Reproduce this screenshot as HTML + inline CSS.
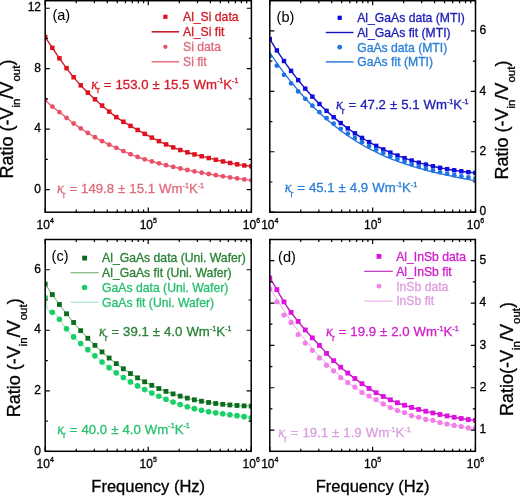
<!DOCTYPE html>
<html><head><meta charset="utf-8"><title>Ratio vs Frequency</title><style>
*{margin:0;padding:0}
html,body{width:520px;height:496px;overflow:hidden;background:#fff}
svg{display:block}
text{font-family:'Liberation Sans', Arial, sans-serif;stroke-width:0.3px}
.tl,.pl,.xt,.yt{stroke:#000}
.tl{font-size:12px;fill:#000}
.sup{font-size:7px}
.lg{font-size:12.2px}
.an{font-size:13.2px;word-spacing:0.35px}
.k{font-style:italic;font-family:'Liberation Serif',serif;font-size:14px}
.sub{font-size:8.5px}
.sup2{font-size:7.2px}
.pl{font-size:14.5px;fill:#000;stroke-width:0.05px}
.xt{font-size:16.5px;fill:#000}
.yt{font-size:18px;fill:#000}
.ys{font-size:11.5px}
</style></head><body>
<svg width="520" height="496" viewBox="0 0 520 496">
<rect width="520" height="496" fill="#fff"/>
<clipPath id="clip_a"><rect x="45.2" y="0.7" width="206.2" height="211.5"/></clipPath>
<clipPath id="clip_b"><rect x="269.8" y="0.7" width="205.7" height="211.5"/></clipPath>
<clipPath id="clip_c"><rect x="45.2" y="239.5" width="206" height="211.8"/></clipPath>
<clipPath id="clip_d"><rect x="269.8" y="239.5" width="205.6" height="211.8"/></clipPath>
<g clip-path="url(#clip_a)">
<polyline points="44.2,35.47 47.22,40.1 50.23,44.69 53.25,49.24 56.27,53.71 59.29,58.1 62.3,62.39 65.32,66.55 68.34,70.58 71.36,74.45 74.37,78.14 77.39,81.64 80.41,84.98 83.43,88.17 86.44,91.22 89.46,94.16 92.48,97 95.5,99.76 98.51,102.45 101.53,105.1 104.55,107.72 107.57,110.28 110.58,112.76 113.6,115.13 116.62,117.34 119.63,119.39 122.65,121.3 125.67,123.11 128.69,124.86 131.7,126.59 134.72,128.3 137.74,130 140.76,131.68 143.77,133.34 146.79,134.97 149.81,136.57 152.83,138.13 155.84,139.64 158.86,141.11 161.88,142.53 164.9,143.9 167.91,145.22 170.93,146.48 173.95,147.69 176.97,148.84 179.98,149.93 183,150.95 186.02,151.92 189.03,152.84 192.05,153.72 195.07,154.55 198.09,155.36 201.1,156.14 204.12,156.9 207.14,157.65 210.16,158.4 213.17,159.14 216.19,159.87 219.21,160.59 222.23,161.29 225.24,161.96 228.26,162.62 231.28,163.24 234.3,163.82 237.31,164.36 240.33,164.86 243.35,165.32 246.37,165.72 249.38,166.06 252.4,166.34" fill="none" stroke="#c82030" stroke-width="1.4"/>
<g fill="#e0101c"><rect x="42.95" y="34.76" width="4.5" height="4.5"/><rect x="50.06" y="45.57" width="4.5" height="4.5"/><rect x="57.17" y="56.05" width="4.5" height="4.5"/><rect x="64.28" y="65.93" width="4.5" height="4.5"/><rect x="71.39" y="75.01" width="4.5" height="4.5"/><rect x="78.5" y="83.1" width="4.5" height="4.5"/><rect x="85.61" y="90.37" width="4.5" height="4.5"/><rect x="92.72" y="97.03" width="4.5" height="4.5"/><rect x="99.83" y="103.33" width="4.5" height="4.5"/><rect x="106.94" y="109.38" width="4.5" height="4.5"/><rect x="114.05" y="114.87" width="4.5" height="4.5"/><rect x="121.16" y="119.52" width="4.5" height="4.5"/><rect x="128.27" y="123.66" width="4.5" height="4.5"/><rect x="135.38" y="127.69" width="4.5" height="4.5"/><rect x="142.49" y="131.62" width="4.5" height="4.5"/><rect x="149.61" y="135.38" width="4.5" height="4.5"/><rect x="156.72" y="138.91" width="4.5" height="4.5"/><rect x="163.83" y="142.17" width="4.5" height="4.5"/><rect x="170.94" y="145.14" width="4.5" height="4.5"/><rect x="178.05" y="147.78" width="4.5" height="4.5"/><rect x="185.16" y="150.1" width="4.5" height="4.5"/><rect x="192.27" y="152.15" width="4.5" height="4.5"/><rect x="199.38" y="154.02" width="4.5" height="4.5"/><rect x="206.49" y="155.8" width="4.5" height="4.5"/><rect x="213.6" y="157.54" width="4.5" height="4.5"/><rect x="220.71" y="159.2" width="4.5" height="4.5"/><rect x="227.82" y="160.74" width="4.5" height="4.5"/><rect x="234.93" y="162.09" width="4.5" height="4.5"/><rect x="242.04" y="163.2" width="4.5" height="4.5"/><rect x="249.15" y="164" width="4.5" height="4.5"/></g>
</g>
<g clip-path="url(#clip_a)">
<polyline points="44.2,98.57 47.22,101.92 50.23,104.77 53.25,107.29 56.27,109.63 59.29,111.94 62.3,114.34 65.32,116.82 68.34,119.3 71.36,121.73 74.37,124.04 77.39,126.19 80.41,128.22 83.43,130.16 86.44,132.04 89.46,133.91 92.48,135.75 95.5,137.56 98.51,139.29 101.53,140.93 104.55,142.46 107.57,143.9 110.58,145.28 113.6,146.63 116.62,147.98 119.63,149.36 122.65,150.76 125.67,152.13 128.69,153.46 131.7,154.72 134.72,155.89 137.74,156.99 140.76,158.03 143.77,159 146.79,159.93 149.81,160.82 152.83,161.68 155.84,162.51 158.86,163.33 161.88,164.12 164.9,164.89 167.91,165.64 170.93,166.37 173.95,167.08 176.97,167.77 179.98,168.44 183,169.1 186.02,169.73 189.03,170.35 192.05,170.96 195.07,171.54 198.09,172.12 201.1,172.67 204.12,173.22 207.14,173.75 210.16,174.27 213.17,174.77 216.19,175.27 219.21,175.75 222.23,176.22 225.24,176.68 228.26,177.14 231.28,177.58 234.3,178.01 237.31,178.44 240.33,178.86 243.35,179.28 246.37,179.68 249.38,180.09 252.4,180.48" fill="none" stroke="#e86474" stroke-width="1.4"/>
<g fill="#e94f68"><circle cx="45.2" cy="99.74" r="2.4"/><circle cx="52.31" cy="106.53" r="2.4"/><circle cx="59.42" cy="112.04" r="2.4"/><circle cx="66.53" cy="117.82" r="2.4"/><circle cx="73.64" cy="123.49" r="2.4"/><circle cx="80.75" cy="128.45" r="2.4"/><circle cx="87.86" cy="132.92" r="2.4"/><circle cx="94.97" cy="137.25" r="2.4"/><circle cx="102.08" cy="141.22" r="2.4"/><circle cx="109.19" cy="144.65" r="2.4"/><circle cx="116.3" cy="147.84" r="2.4"/><circle cx="123.41" cy="151.11" r="2.4"/><circle cx="130.52" cy="154.24" r="2.4"/><circle cx="137.63" cy="156.96" r="2.4"/><circle cx="144.74" cy="159.3" r="2.4"/><circle cx="151.86" cy="161.4" r="2.4"/><circle cx="158.97" cy="163.36" r="2.4"/><circle cx="166.08" cy="165.19" r="2.4"/><circle cx="173.19" cy="166.9" r="2.4"/><circle cx="180.3" cy="168.51" r="2.4"/><circle cx="187.41" cy="170.02" r="2.4"/><circle cx="194.52" cy="171.44" r="2.4"/><circle cx="201.63" cy="172.77" r="2.4"/><circle cx="208.74" cy="174.02" r="2.4"/><circle cx="215.85" cy="175.21" r="2.4"/><circle cx="222.96" cy="176.33" r="2.4"/><circle cx="230.07" cy="177.4" r="2.4"/><circle cx="237.18" cy="178.42" r="2.4"/><circle cx="244.29" cy="179.4" r="2.4"/><circle cx="251.4" cy="180.35" r="2.4"/></g>
</g>
<g clip-path="url(#clip_b)">
<polyline points="268.8,37.51 271.81,42.43 274.82,47.22 277.83,51.88 280.84,56.41 283.85,60.81 286.86,65.09 289.87,69.24 292.88,73.28 295.89,77.19 298.9,80.99 301.91,84.68 304.92,88.26 307.93,91.72 310.94,95.08 313.95,98.34 316.96,101.49 319.97,104.54 322.98,107.49 325.99,110.35 329,113.11 332.01,115.79 335.02,118.37 338.03,120.86 341.04,123.27 344.05,125.6 347.06,127.85 350.07,130.02 353.08,132.11 356.09,134.13 359.1,136.07 362.11,137.95 365.12,139.76 368.13,141.5 371.14,143.19 374.16,144.81 377.17,146.37 380.18,147.87 383.19,149.32 386.2,150.72 389.21,152.06 392.22,153.35 395.23,154.59 398.24,155.78 401.25,156.92 404.26,158.01 407.27,159.06 410.28,160.06 413.29,161.02 416.3,161.93 419.31,162.81 422.32,163.64 425.33,164.43 428.34,165.19 431.35,165.9 434.36,166.59 437.37,167.23 440.38,167.85 443.39,168.43 446.4,168.98 449.41,169.5 452.42,169.99 455.43,170.45 458.44,170.89 461.45,171.3 464.46,171.69 467.47,172.05 470.48,172.39 473.49,172.71 476.5,173.01" fill="none" stroke="#1414c0" stroke-width="1.4"/>
<g fill="#0c0ce0"><rect x="267.6" y="36.96" width="4.4" height="4.4"/><rect x="274.69" y="48.24" width="4.4" height="4.4"/><rect x="281.79" y="58.81" width="4.4" height="4.4"/><rect x="288.88" y="68.68" width="4.4" height="4.4"/><rect x="295.97" y="77.88" width="4.4" height="4.4"/><rect x="303.07" y="86.46" width="4.4" height="4.4"/><rect x="310.16" y="94.43" width="4.4" height="4.4"/><rect x="317.25" y="101.82" width="4.4" height="4.4"/><rect x="324.34" y="108.66" width="4.4" height="4.4"/><rect x="331.44" y="114.99" width="4.4" height="4.4"/><rect x="338.53" y="120.83" width="4.4" height="4.4"/><rect x="345.62" y="126.2" width="4.4" height="4.4"/><rect x="352.72" y="131.15" width="4.4" height="4.4"/><rect x="359.81" y="135.69" width="4.4" height="4.4"/><rect x="366.9" y="139.85" width="4.4" height="4.4"/><rect x="374" y="143.67" width="4.4" height="4.4"/><rect x="381.09" y="147.17" width="4.4" height="4.4"/><rect x="388.18" y="150.37" width="4.4" height="4.4"/><rect x="395.28" y="153.28" width="4.4" height="4.4"/><rect x="402.37" y="155.92" width="4.4" height="4.4"/><rect x="409.46" y="158.31" width="4.4" height="4.4"/><rect x="416.56" y="160.45" width="4.4" height="4.4"/><rect x="423.65" y="162.36" width="4.4" height="4.4"/><rect x="430.74" y="164.07" width="4.4" height="4.4"/><rect x="437.83" y="165.58" width="4.4" height="4.4"/><rect x="444.93" y="166.91" width="4.4" height="4.4"/><rect x="452.02" y="168.07" width="4.4" height="4.4"/><rect x="459.11" y="169.08" width="4.4" height="4.4"/><rect x="466.21" y="169.96" width="4.4" height="4.4"/><rect x="473.3" y="170.71" width="4.4" height="4.4"/></g>
</g>
<g clip-path="url(#clip_b)">
<polyline points="268.8,51.21 271.81,55.72 274.82,60.12 277.83,64.4 280.84,68.57 283.85,72.63 286.86,76.58 289.87,80.42 292.88,84.15 295.89,87.78 298.9,91.3 301.91,94.73 304.92,98.05 307.93,101.28 310.94,104.41 313.95,107.45 316.96,110.4 319.97,113.25 322.98,116.02 325.99,118.7 329,121.3 332.01,123.81 335.02,126.24 338.03,128.59 341.04,130.86 344.05,133.06 347.06,135.18 350.07,137.23 353.08,139.21 356.09,141.12 359.1,142.96 362.11,144.73 365.12,146.45 368.13,148.1 371.14,149.69 374.16,151.22 377.17,152.69 380.18,154.11 383.19,155.48 386.2,156.79 389.21,158.06 392.22,159.28 395.23,160.45 398.24,161.57 401.25,162.66 404.26,163.7 407.27,164.71 410.28,165.67 413.29,166.61 416.3,167.5 419.31,168.37 422.32,169.21 425.33,170.01 428.34,170.8 431.35,171.55 434.36,172.28 437.37,173 440.38,173.69 443.39,174.36 446.4,175.02 449.41,175.67 452.42,176.3 455.43,176.92 458.44,177.53 461.45,178.14 464.46,178.74 467.47,179.34 470.48,179.93 473.49,180.52 476.5,181.12" fill="none" stroke="#2070d8" stroke-width="1.3"/>
<g fill="#1e74e4"><circle cx="269.8" cy="55.91" r="2.4"/><circle cx="276.89" cy="65.69" r="2.4"/><circle cx="283.99" cy="74.85" r="2.4"/><circle cx="291.08" cy="83.4" r="2.4"/><circle cx="298.17" cy="91.38" r="2.4"/><circle cx="305.27" cy="98.81" r="2.4"/><circle cx="312.36" cy="105.73" r="2.4"/><circle cx="319.45" cy="112.17" r="2.4"/><circle cx="326.54" cy="118.15" r="2.4"/><circle cx="333.64" cy="123.7" r="2.4"/><circle cx="340.73" cy="128.85" r="2.4"/><circle cx="347.82" cy="133.64" r="2.4"/><circle cx="354.92" cy="138.08" r="2.4"/><circle cx="362.01" cy="142.2" r="2.4"/><circle cx="369.1" cy="146.05" r="2.4"/><circle cx="376.2" cy="149.63" r="2.4"/><circle cx="383.29" cy="152.99" r="2.4"/><circle cx="390.38" cy="156.13" r="2.4"/><circle cx="397.48" cy="159.05" r="2.4"/><circle cx="404.57" cy="161.75" r="2.4"/><circle cx="411.66" cy="164.26" r="2.4"/><circle cx="418.76" cy="166.56" r="2.4"/><circle cx="425.85" cy="168.67" r="2.4"/><circle cx="432.94" cy="170.58" r="2.4"/><circle cx="440.03" cy="172.31" r="2.4"/><circle cx="447.13" cy="173.87" r="2.4"/><circle cx="454.22" cy="175.25" r="2.4"/><circle cx="461.31" cy="176.45" r="2.4"/><circle cx="468.41" cy="177.5" r="2.4"/><circle cx="475.5" cy="178.39" r="2.4"/></g>
</g>
<g clip-path="url(#clip_c)">
<polyline points="44.2,282.5 47.21,287.09 50.23,291.56 53.24,295.91 56.26,300.16 59.27,304.29 62.29,308.32 65.3,312.24 68.32,316.05 71.33,319.76 74.34,323.36 77.36,326.87 80.37,330.28 83.39,333.58 86.4,336.79 89.42,339.91 92.43,342.93 95.45,345.85 98.46,348.69 101.48,351.44 104.49,354.09 107.5,356.67 110.52,359.15 113.53,361.55 116.55,363.87 119.56,366.11 122.58,368.27 125.59,370.35 128.61,372.35 131.62,374.28 134.63,376.13 137.65,377.92 140.66,379.63 143.68,381.27 146.69,382.84 149.71,384.35 152.72,385.79 155.74,387.16 158.75,388.48 161.77,389.73 164.78,390.93 167.79,392.06 170.81,393.14 173.82,394.17 176.84,395.14 179.85,396.05 182.87,396.92 185.88,397.74 188.9,398.51 191.91,399.23 194.92,399.91 197.94,400.55 200.95,401.14 203.97,401.69 206.98,402.2 210,402.68 213.01,403.12 216.03,403.52 219.04,403.89 222.06,404.23 225.07,404.53 228.08,404.81 231.1,405.06 234.11,405.28 237.13,405.48 240.14,405.66 243.16,405.81 246.17,405.94 249.19,406.06 252.2,406.15" fill="none" stroke="#4f9a4a" stroke-width="0.9"/>
<g fill="#0b6b1e"><rect x="42.8" y="281.64" width="4.8" height="4.8"/><rect x="49.9" y="292.17" width="4.8" height="4.8"/><rect x="57.01" y="302.07" width="4.8" height="4.8"/><rect x="64.11" y="311.38" width="4.8" height="4.8"/><rect x="71.21" y="320.1" width="4.8" height="4.8"/><rect x="78.32" y="328.26" width="4.8" height="4.8"/><rect x="85.42" y="335.87" width="4.8" height="4.8"/><rect x="92.52" y="342.95" width="4.8" height="4.8"/><rect x="99.63" y="349.53" width="4.8" height="4.8"/><rect x="106.73" y="355.62" width="4.8" height="4.8"/><rect x="113.83" y="361.24" width="4.8" height="4.8"/><rect x="120.94" y="366.4" width="4.8" height="4.8"/><rect x="128.04" y="371.14" width="4.8" height="4.8"/><rect x="135.14" y="375.46" width="4.8" height="4.8"/><rect x="142.25" y="379.38" width="4.8" height="4.8"/><rect x="149.35" y="382.93" width="4.8" height="4.8"/><rect x="156.46" y="386.12" width="4.8" height="4.8"/><rect x="163.56" y="388.98" width="4.8" height="4.8"/><rect x="170.66" y="391.51" width="4.8" height="4.8"/><rect x="177.77" y="393.75" width="4.8" height="4.8"/><rect x="184.87" y="395.7" width="4.8" height="4.8"/><rect x="191.97" y="397.39" width="4.8" height="4.8"/><rect x="199.08" y="398.84" width="4.8" height="4.8"/><rect x="206.18" y="400.06" width="4.8" height="4.8"/><rect x="213.28" y="401.08" width="4.8" height="4.8"/><rect x="220.39" y="401.9" width="4.8" height="4.8"/><rect x="227.49" y="402.56" width="4.8" height="4.8"/><rect x="234.59" y="403.07" width="4.8" height="4.8"/><rect x="241.7" y="403.45" width="4.8" height="4.8"/><rect x="248.8" y="403.72" width="4.8" height="4.8"/></g>
</g>
<g clip-path="url(#clip_c)">
<polyline points="44.2,288.46 47.21,308.38 50.23,312.53 53.24,312.39 56.26,314.91 59.27,319.08 62.29,323.32 65.3,327.31 68.32,331.02 71.33,334.47 74.34,337.63 77.36,340.54 80.37,343.26 83.39,345.86 86.4,348.43 89.42,351.02 92.43,353.66 95.45,356.31 98.46,358.94 101.48,361.51 104.49,364 107.5,366.39 110.52,368.7 113.53,370.92 116.55,373.05 119.56,375.11 122.58,377.08 125.59,378.99 128.61,380.83 131.62,382.6 134.63,384.31 137.65,385.97 140.66,387.57 143.68,389.11 146.69,390.61 149.71,392.07 152.72,393.49 155.74,394.86 158.75,396.2 161.77,397.5 164.78,398.76 167.79,399.97 170.81,401.14 173.82,402.27 176.84,403.35 179.85,404.38 182.87,405.37 185.88,406.3 188.9,407.19 191.91,408.03 194.92,408.81 197.94,409.54 200.95,410.22 203.97,410.84 206.98,411.41 210,411.94 213.01,412.43 216.03,412.88 219.04,413.31 222.06,413.72 225.07,414.12 228.08,414.51 231.1,414.89 234.11,415.28 237.13,415.68 240.14,416.09 243.16,416.53 246.17,416.99 249.19,417.49 252.2,418.03" fill="none" stroke="#7ee0b0" stroke-width="0.9"/>
<g fill="#18d068"><circle cx="45.2" cy="297.53" r="2.8"/><circle cx="52.3" cy="312.23" r="2.8"/><circle cx="59.41" cy="319.28" r="2.8"/><circle cx="66.51" cy="328.83" r="2.8"/><circle cx="73.61" cy="336.89" r="2.8"/><circle cx="80.72" cy="343.56" r="2.8"/><circle cx="87.82" cy="349.64" r="2.8"/><circle cx="94.92" cy="355.85" r="2.8"/><circle cx="102.03" cy="361.97" r="2.8"/><circle cx="109.13" cy="367.65" r="2.8"/><circle cx="116.23" cy="372.83" r="2.8"/><circle cx="123.34" cy="377.57" r="2.8"/><circle cx="130.44" cy="381.92" r="2.8"/><circle cx="137.54" cy="385.91" r="2.8"/><circle cx="144.65" cy="389.6" r="2.8"/><circle cx="151.75" cy="393.03" r="2.8"/><circle cx="158.86" cy="396.25" r="2.8"/><circle cx="165.96" cy="399.24" r="2.8"/><circle cx="173.06" cy="401.99" r="2.8"/><circle cx="180.17" cy="404.48" r="2.8"/><circle cx="187.27" cy="406.72" r="2.8"/><circle cx="194.37" cy="408.67" r="2.8"/><circle cx="201.48" cy="410.33" r="2.8"/><circle cx="208.58" cy="411.7" r="2.8"/><circle cx="215.68" cy="412.83" r="2.8"/><circle cx="222.79" cy="413.82" r="2.8"/><circle cx="229.89" cy="414.74" r="2.8"/><circle cx="236.99" cy="415.66" r="2.8"/><circle cx="244.1" cy="416.67" r="2.8"/><circle cx="251.2" cy="417.84" r="2.8"/></g>
</g>
<g clip-path="url(#clip_d)">
<polyline points="268.8,276.62 271.81,281.02 274.82,285.99 277.83,291.27 280.83,296.59 283.84,301.69 286.85,306.39 289.86,310.72 292.87,314.76 295.88,318.61 298.89,322.33 301.9,325.98 304.9,329.55 307.91,333 310.92,336.34 313.93,339.54 316.94,342.71 319.95,345.98 322.96,349.38 325.97,352.78 328.97,356.02 331.98,359.1 334.99,362.03 338,364.81 341.01,367.48 344.02,370.03 347.03,372.48 350.03,374.85 353.04,377.15 356.05,379.4 359.06,381.59 362.07,383.72 365.08,385.79 368.09,387.78 371.1,389.7 374.1,391.53 377.11,393.26 380.12,394.9 383.13,396.45 386.14,397.91 389.15,399.3 392.16,400.6 395.17,401.83 398.17,402.99 401.18,404.09 404.19,405.13 407.2,406.11 410.21,407.05 413.22,407.94 416.23,408.79 419.23,409.6 422.24,410.38 425.25,411.13 428.26,411.86 431.27,412.57 434.28,413.26 437.29,413.92 440.3,414.56 443.3,415.18 446.31,415.79 449.32,416.36 452.33,416.92 455.34,417.46 458.35,417.98 461.36,418.48 464.37,418.95 467.37,419.41 470.38,419.85 473.39,420.27 476.4,420.66" fill="none" stroke="#b820b8" stroke-width="1.4"/>
<g fill="#e010e0"><rect x="267.4" y="275.6" width="4.8" height="4.8"/><rect x="274.49" y="287.21" width="4.8" height="4.8"/><rect x="281.58" y="299.51" width="4.8" height="4.8"/><rect x="288.67" y="309.97" width="4.8" height="4.8"/><rect x="295.76" y="319.04" width="4.8" height="4.8"/><rect x="302.85" y="327.55" width="4.8" height="4.8"/><rect x="309.94" y="335.46" width="4.8" height="4.8"/><rect x="317.03" y="343" width="4.8" height="4.8"/><rect x="324.12" y="350.99" width="4.8" height="4.8"/><rect x="331.21" y="358.3" width="4.8" height="4.8"/><rect x="338.3" y="364.81" width="4.8" height="4.8"/><rect x="345.39" y="370.69" width="4.8" height="4.8"/><rect x="352.48" y="376.12" width="4.8" height="4.8"/><rect x="359.57" y="381.25" width="4.8" height="4.8"/><rect x="366.66" y="386.01" width="4.8" height="4.8"/><rect x="373.74" y="390.32" width="4.8" height="4.8"/><rect x="380.83" y="394.1" width="4.8" height="4.8"/><rect x="387.92" y="397.41" width="4.8" height="4.8"/><rect x="395.01" y="400.3" width="4.8" height="4.8"/><rect x="402.1" y="402.83" width="4.8" height="4.8"/><rect x="409.19" y="405.06" width="4.8" height="4.8"/><rect x="416.28" y="407.05" width="4.8" height="4.8"/><rect x="423.37" y="408.86" width="4.8" height="4.8"/><rect x="430.46" y="410.54" width="4.8" height="4.8"/><rect x="437.55" y="412.09" width="4.8" height="4.8"/><rect x="444.64" y="413.53" width="4.8" height="4.8"/><rect x="451.73" y="414.85" width="4.8" height="4.8"/><rect x="458.82" y="416.05" width="4.8" height="4.8"/><rect x="465.91" y="417.15" width="4.8" height="4.8"/><rect x="473" y="418.13" width="4.8" height="4.8"/></g>
</g>
<g clip-path="url(#clip_d)">
<polyline points="268.8,285.66 271.81,290.89 274.82,295.97 277.83,300.92 280.83,305.73 283.84,310.41 286.85,314.96 289.86,319.38 292.87,323.68 295.88,327.85 298.89,331.9 301.9,335.83 304.9,339.64 307.91,343.33 310.92,346.91 313.93,350.38 316.94,353.73 319.95,356.98 322.96,360.13 325.97,363.17 328.97,366.11 331.98,368.95 334.99,371.69 338,374.34 341.01,376.89 344.02,379.35 347.03,381.73 350.03,384.01 353.04,386.21 356.05,388.33 359.06,390.37 362.07,392.33 365.08,394.21 368.09,396.02 371.1,397.76 374.1,399.42 377.11,401.02 380.12,402.55 383.13,404.01 386.14,405.42 389.15,406.76 392.16,408.05 395.17,409.28 398.17,410.45 401.18,411.58 404.19,412.65 407.2,413.68 410.21,414.66 413.22,415.6 416.23,416.5 419.23,417.36 422.24,418.18 425.25,418.96 428.26,419.72 431.27,420.44 434.28,421.13 437.29,421.8 440.3,422.44 443.3,423.06 446.31,423.66 449.32,424.23 452.33,424.8 455.34,425.35 458.35,425.88 461.36,426.41 464.37,426.93 467.37,427.44 470.38,427.95 473.39,428.46 476.4,428.96" fill="none" stroke="#f0a0ec" stroke-width="1.0"/>
<g fill="#f080e8"><circle cx="269.8" cy="288.9" r="2.6"/><circle cx="276.89" cy="301.8" r="2.6"/><circle cx="283.98" cy="315" r="2.6"/><circle cx="291.07" cy="322.4" r="2.6"/><circle cx="298.16" cy="334.5" r="2.6"/><circle cx="305.25" cy="343.1" r="2.6"/><circle cx="312.34" cy="350.3" r="2.6"/><circle cx="319.43" cy="357.9" r="2.6"/><circle cx="326.52" cy="365.2" r="2.6"/><circle cx="333.61" cy="370.8" r="2.6"/><circle cx="340.7" cy="377.7" r="2.6"/><circle cx="347.79" cy="382.6" r="2.6"/><circle cx="354.88" cy="387.1" r="2.6"/><circle cx="361.97" cy="392.4" r="2.6"/><circle cx="369.06" cy="396" r="2.6"/><circle cx="376.14" cy="399.6" r="2.6"/><circle cx="383.23" cy="403.9" r="2.6"/><circle cx="390.32" cy="407.5" r="2.6"/><circle cx="397.41" cy="410.5" r="2.6"/><circle cx="404.5" cy="412.6" r="2.6"/><circle cx="411.59" cy="415.7" r="2.6"/><circle cx="418.68" cy="417.25" r="2.6"/><circle cx="425.77" cy="419.4" r="2.6"/><circle cx="432.86" cy="420.3" r="2.6"/><circle cx="439.95" cy="422.5" r="2.6"/><circle cx="447.04" cy="424" r="2.6"/><circle cx="454.13" cy="425.4" r="2.6"/><circle cx="461.22" cy="426.5" r="2.6"/><circle cx="468.31" cy="427.9" r="2.6"/><circle cx="475.4" cy="427.8" r="2.6"/></g>
</g>
<path d="M45.2 212.2v-4.6M45.2 0.7v4.6M76.24 212.2v-2.6M76.24 0.7v2.6M94.39 212.2v-2.6M94.39 0.7v2.6M107.27 212.2v-2.6M107.27 0.7v2.6M117.26 212.2v-2.6M117.26 0.7v2.6M125.43 212.2v-2.6M125.43 0.7v2.6M132.33 212.2v-2.6M132.33 0.7v2.6M138.31 212.2v-2.6M138.31 0.7v2.6M143.58 212.2v-2.6M143.58 0.7v2.6M148.3 212.2v-4.6M148.3 0.7v4.6M179.34 212.2v-2.6M179.34 0.7v2.6M197.49 212.2v-2.6M197.49 0.7v2.6M210.37 212.2v-2.6M210.37 0.7v2.6M220.36 212.2v-2.6M220.36 0.7v2.6M228.53 212.2v-2.6M228.53 0.7v2.6M235.43 212.2v-2.6M235.43 0.7v2.6M241.41 212.2v-2.6M241.41 0.7v2.6M246.68 212.2v-2.6M246.68 0.7v2.6M251.4 212.2v-4.6M251.4 0.7v4.6M45.2 189.54h4.6M251.4 189.54h-4.6M45.2 129.11h4.6M251.4 129.11h-4.6M45.2 68.68h4.6M251.4 68.68h-4.6M45.2 8.25h4.6M251.4 8.25h-4.6M45.2 159.32h2.6M251.4 159.32h-2.6M45.2 98.9h2.6M251.4 98.9h-2.6M45.2 38.47h2.6M251.4 38.47h-2.6" stroke="#000" stroke-width="1.2" fill="none"/>
<rect x="45.2" y="0.7" width="206.2" height="211.5" fill="none" stroke="#000" stroke-width="1.5"/>
<text x="41" y="192.74" text-anchor="end" class="tl">0</text>
<text x="41" y="132.31" text-anchor="end" class="tl">4</text>
<text x="41" y="71.88" text-anchor="end" class="tl">8</text>
<text x="41" y="11.45" text-anchor="end" class="tl">12</text>
<text x="45.2" y="228.5" text-anchor="middle" class="tl">10<tspan dy="-5.3" class="sup">4</tspan></text>
<text x="148.3" y="228.5" text-anchor="middle" class="tl">10<tspan dy="-5.3" class="sup">5</tspan></text>
<text x="251.4" y="228.5" text-anchor="middle" class="tl">10<tspan dy="-5.3" class="sup">6</tspan></text>
<path d="M269.8 212.2v-4.6M269.8 0.7v4.6M300.76 212.2v-2.6M300.76 0.7v2.6M318.87 212.2v-2.6M318.87 0.7v2.6M331.72 212.2v-2.6M331.72 0.7v2.6M341.69 212.2v-2.6M341.69 0.7v2.6M349.83 212.2v-2.6M349.83 0.7v2.6M356.72 212.2v-2.6M356.72 0.7v2.6M362.68 212.2v-2.6M362.68 0.7v2.6M367.94 212.2v-2.6M367.94 0.7v2.6M372.65 212.2v-4.6M372.65 0.7v4.6M403.61 212.2v-2.6M403.61 0.7v2.6M421.72 212.2v-2.6M421.72 0.7v2.6M434.57 212.2v-2.6M434.57 0.7v2.6M444.54 212.2v-2.6M444.54 0.7v2.6M452.68 212.2v-2.6M452.68 0.7v2.6M459.57 212.2v-2.6M459.57 0.7v2.6M465.53 212.2v-2.6M465.53 0.7v2.6M470.79 212.2v-2.6M470.79 0.7v2.6M475.5 212.2v-4.6M475.5 0.7v4.6M269.8 212.2h4.6M475.5 212.2h-4.6M269.8 151.77h4.6M475.5 151.77h-4.6M269.8 91.34h4.6M475.5 91.34h-4.6M269.8 30.91h4.6M475.5 30.91h-4.6M269.8 181.99h2.6M475.5 181.99h-2.6M269.8 121.56h2.6M475.5 121.56h-2.6M269.8 61.13h2.6M475.5 61.13h-2.6" stroke="#000" stroke-width="1.2" fill="none"/>
<rect x="269.8" y="0.7" width="205.7" height="211.5" fill="none" stroke="#000" stroke-width="1.5"/>
<text x="479.6" y="215.4" class="tl">0</text>
<text x="479.6" y="154.97" class="tl">2</text>
<text x="479.6" y="94.54" class="tl">4</text>
<text x="479.6" y="34.11" class="tl">6</text>
<text x="269.8" y="228.5" text-anchor="middle" class="tl">10<tspan dy="-5.3" class="sup">4</tspan></text>
<text x="372.65" y="228.5" text-anchor="middle" class="tl">10<tspan dy="-5.3" class="sup">5</tspan></text>
<text x="475.5" y="228.5" text-anchor="middle" class="tl">10<tspan dy="-5.3" class="sup">6</tspan></text>
<path d="M45.2 451.3v-4.6M45.2 239.5v4.6M76.21 451.3v-2.6M76.21 239.5v2.6M94.34 451.3v-2.6M94.34 239.5v2.6M107.21 451.3v-2.6M107.21 239.5v2.6M117.19 451.3v-2.6M117.19 239.5v2.6M125.35 451.3v-2.6M125.35 239.5v2.6M132.25 451.3v-2.6M132.25 239.5v2.6M138.22 451.3v-2.6M138.22 239.5v2.6M143.49 451.3v-2.6M143.49 239.5v2.6M148.2 451.3v-4.6M148.2 239.5v4.6M179.21 451.3v-2.6M179.21 239.5v2.6M197.34 451.3v-2.6M197.34 239.5v2.6M210.21 451.3v-2.6M210.21 239.5v2.6M220.19 451.3v-2.6M220.19 239.5v2.6M228.35 451.3v-2.6M228.35 239.5v2.6M235.25 451.3v-2.6M235.25 239.5v2.6M241.22 451.3v-2.6M241.22 239.5v2.6M246.49 451.3v-2.6M246.49 239.5v2.6M251.2 451.3v-4.6M251.2 239.5v4.6M45.2 451.3h4.6M251.2 451.3h-4.6M45.2 390.79h4.6M251.2 390.79h-4.6M45.2 330.27h4.6M251.2 330.27h-4.6M45.2 269.76h4.6M251.2 269.76h-4.6M45.2 421.04h2.6M251.2 421.04h-2.6M45.2 360.53h2.6M251.2 360.53h-2.6M45.2 300.01h2.6M251.2 300.01h-2.6" stroke="#000" stroke-width="1.2" fill="none"/>
<rect x="45.2" y="239.5" width="206" height="211.8" fill="none" stroke="#000" stroke-width="1.5"/>
<text x="41" y="454.5" text-anchor="end" class="tl">0</text>
<text x="41" y="393.99" text-anchor="end" class="tl">2</text>
<text x="41" y="333.47" text-anchor="end" class="tl">4</text>
<text x="41" y="272.96" text-anchor="end" class="tl">6</text>
<text x="45.2" y="467.6" text-anchor="middle" class="tl">10<tspan dy="-5.3" class="sup">4</tspan></text>
<text x="148.2" y="467.6" text-anchor="middle" class="tl">10<tspan dy="-5.3" class="sup">5</tspan></text>
<text x="251.2" y="467.6" text-anchor="middle" class="tl">10<tspan dy="-5.3" class="sup">6</tspan></text>
<path d="M269.8 451.3v-4.6M269.8 239.5v4.6M300.75 451.3v-2.6M300.75 239.5v2.6M318.85 451.3v-2.6M318.85 239.5v2.6M331.69 451.3v-2.6M331.69 239.5v2.6M341.65 451.3v-2.6M341.65 239.5v2.6M349.79 451.3v-2.6M349.79 239.5v2.6M356.68 451.3v-2.6M356.68 239.5v2.6M362.64 451.3v-2.6M362.64 239.5v2.6M367.9 451.3v-2.6M367.9 239.5v2.6M372.6 451.3v-4.6M372.6 239.5v4.6M403.55 451.3v-2.6M403.55 239.5v2.6M421.65 451.3v-2.6M421.65 239.5v2.6M434.49 451.3v-2.6M434.49 239.5v2.6M444.45 451.3v-2.6M444.45 239.5v2.6M452.59 451.3v-2.6M452.59 239.5v2.6M459.48 451.3v-2.6M459.48 239.5v2.6M465.44 451.3v-2.6M465.44 239.5v2.6M470.7 451.3v-2.6M470.7 239.5v2.6M475.4 451.3v-4.6M475.4 239.5v4.6M269.8 430.12h4.6M475.4 430.12h-4.6M269.8 387.76h4.6M475.4 387.76h-4.6M269.8 345.4h4.6M475.4 345.4h-4.6M269.8 303.04h4.6M475.4 303.04h-4.6M269.8 260.68h4.6M475.4 260.68h-4.6M269.8 408.94h2.6M475.4 408.94h-2.6M269.8 366.58h2.6M475.4 366.58h-2.6M269.8 324.22h2.6M475.4 324.22h-2.6M269.8 281.86h2.6M475.4 281.86h-2.6" stroke="#000" stroke-width="1.2" fill="none"/>
<rect x="269.8" y="239.5" width="205.6" height="211.8" fill="none" stroke="#000" stroke-width="1.5"/>
<text x="479.5" y="433.32" class="tl">1</text>
<text x="479.5" y="390.96" class="tl">2</text>
<text x="479.5" y="348.6" class="tl">3</text>
<text x="479.5" y="306.24" class="tl">4</text>
<text x="479.5" y="263.88" class="tl">5</text>
<text x="269.8" y="467.6" text-anchor="middle" class="tl">10<tspan dy="-5.3" class="sup">4</tspan></text>
<text x="372.6" y="467.6" text-anchor="middle" class="tl">10<tspan dy="-5.3" class="sup">5</tspan></text>
<text x="475.4" y="467.6" text-anchor="middle" class="tl">10<tspan dy="-5.3" class="sup">6</tspan></text>
<rect x="163.3" y="14.7" width="4.2" height="4.2" fill="#e0101c"/>
<text x="183" y="21.1" class="lg" fill="#d41a28" stroke="#d41a28">Al_Si data</text>
<path d="M151.6 31.8H179.1" stroke="#c82030" stroke-width="1.6"/>
<text x="183" y="36.1" class="lg" fill="#d41a28" stroke="#d41a28">Al_Si fit</text>
<circle cx="165.4" cy="46.8" r="2.15" fill="#e94f68"/>
<text x="183" y="51.1" class="lg" fill="#e06a7a" stroke="#e06a7a">Si data</text>
<path d="M151.6 61.8H179.1" stroke="#e86474" stroke-width="1.4"/>
<text x="183" y="66.1" class="lg" fill="#e06a7a" stroke="#e06a7a">Si fit</text>
<rect x="337.6" y="15.7" width="4.2" height="4.2" fill="#0c0ce0"/>
<text x="357.2" y="22.1" class="lg" fill="#1c1cb8" stroke="#1c1cb8">Al_GaAs data (MTI)</text>
<path d="M325.8 32.5H353.5" stroke="#1414c0" stroke-width="1.4"/>
<text x="357.2" y="36.8" class="lg" fill="#1c1cb8" stroke="#1c1cb8">Al_GaAs fit (MTI)</text>
<circle cx="339.7" cy="47.2" r="2.4" fill="#1e74e4"/>
<text x="357.2" y="51.5" class="lg" fill="#2a7fd8" stroke="#2a7fd8">GaAs data (MTI)</text>
<path d="M325.8 61.9H353.5" stroke="#2070d8" stroke-width="1.4"/>
<text x="357.2" y="66.2" class="lg" fill="#2a7fd8" stroke="#2a7fd8">GaAs fit (MTI)</text>
<rect x="82.2" y="255.7" width="4.8" height="4.8" fill="#0b6b1e"/>
<text x="102.1" y="262.4" class="lg" fill="#2a8236" stroke="#2a8236">Al_GaAs data (Uni. Wafer)</text>
<path d="M70.6 272.8H98.5" stroke="#4f9a4a" stroke-width="0.9"/>
<text x="102.1" y="277.1" class="lg" fill="#2a8236" stroke="#2a8236">Al_GaAs fit (Uni. Wafer)</text>
<circle cx="84.6" cy="287.5" r="2.7" fill="#18d068"/>
<text x="102.1" y="291.8" class="lg" fill="#28c070" stroke="#28c070">GaAs data (Uni. Wafer)</text>
<path d="M70.6 302.2H98.5" stroke="#7ee0b0" stroke-width="0.9"/>
<text x="102.1" y="306.5" class="lg" fill="#28c070" stroke="#28c070">GaAs fit (Uni. Wafer)</text>
<rect x="376.6" y="254" width="4.8" height="4.8" fill="#e010e0"/>
<text x="396.2" y="260.7" class="lg" fill="#d020cc" stroke="#d020cc">Al_InSb data</text>
<path d="M364.2 271.3H392.8" stroke="#b820b8" stroke-width="1.1"/>
<text x="396.2" y="275.6" class="lg" fill="#d020cc" stroke="#d020cc">Al_InSb fit</text>
<circle cx="379" cy="286.2" r="2.4" fill="#f080e8"/>
<text x="396.2" y="290.5" class="lg" fill="#dc9ede" stroke="#dc9ede">InSb data</text>
<path d="M364.2 301.1H392.8" stroke="#f0a0ec" stroke-width="1.0"/>
<text x="396.2" y="305.4" class="lg" fill="#dc9ede" stroke="#dc9ede">InSb fit</text>
<text x="91.3" y="88.6" class="an" fill="#d41a28" stroke="#d41a28"><tspan class="k">κ</tspan><tspan x="97.1" dy="4.7" class="sub">r</tspan><tspan x="103.8" dy="-4.7">= 153.0 ± 15.5 Wm</tspan><tspan dy="-5.2" class="sup2">-1</tspan><tspan dy="5.2">K</tspan><tspan dy="-5.2" class="sup2">-1</tspan></text>
<text x="56.9" y="192.8" class="an" fill="#e06a7a" stroke="#e06a7a"><tspan class="k">κ</tspan><tspan x="62.7" dy="4.7" class="sub">r</tspan><tspan x="69.4" dy="-4.7">= 149.8 ± 15.1 Wm</tspan><tspan dy="-5.2" class="sup2">-1</tspan><tspan dy="5.2">K</tspan><tspan dy="-5.2" class="sup2">-1</tspan></text>
<text x="336" y="108.8" class="an" fill="#1c1cb8" stroke="#1c1cb8"><tspan class="k">κ</tspan><tspan x="341.8" dy="4.7" class="sub">r</tspan><tspan x="348.5" dy="-4.7">= 47.2 ± 5.1 Wm</tspan><tspan dy="-5.2" class="sup2">-1</tspan><tspan dy="5.2">K</tspan><tspan dy="-5.2" class="sup2">-1</tspan></text>
<text x="284.7" y="192.1" class="an" fill="#2a7fd8" stroke="#2a7fd8"><tspan class="k">κ</tspan><tspan x="290.5" dy="4.7" class="sub">r</tspan><tspan x="297.2" dy="-4.7">= 45.1 ± 4.9 Wm</tspan><tspan dy="-5.2" class="sup2">-1</tspan><tspan dy="5.2">K</tspan><tspan dy="-5.2" class="sup2">-1</tspan></text>
<text x="98.9" y="336.3" class="an" fill="#2a8236" stroke="#2a8236"><tspan class="k">κ</tspan><tspan x="104.7" dy="4.7" class="sub">r</tspan><tspan x="111.4" dy="-4.7">= 39.1 ± 4.0 Wm</tspan><tspan dy="-5.2" class="sup2">-1</tspan><tspan dy="5.2">K</tspan><tspan dy="-5.2" class="sup2">-1</tspan></text>
<text x="57.3" y="433.5" class="an" fill="#28c070" stroke="#28c070"><tspan class="k">κ</tspan><tspan x="63.1" dy="4.7" class="sub">r</tspan><tspan x="69.8" dy="-4.7">= 40.0 ± 4.0 Wm</tspan><tspan dy="-5.2" class="sup2">-1</tspan><tspan dy="5.2">K</tspan><tspan dy="-5.2" class="sup2">-1</tspan></text>
<text x="326.1" y="336.3" class="an" fill="#d020cc" stroke="#d020cc"><tspan class="k">κ</tspan><tspan x="331.9" dy="4.7" class="sub">r</tspan><tspan x="338.6" dy="-4.7">= 19.9 ± 2.0 Wm</tspan><tspan dy="-5.2" class="sup2">-1</tspan><tspan dy="5.2">K</tspan><tspan dy="-5.2" class="sup2">-1</tspan></text>
<text x="278.2" y="436.8" class="an" fill="#dc9ede" stroke="#dc9ede"><tspan class="k">κ</tspan><tspan x="284" dy="4.7" class="sub">r</tspan><tspan x="290.7" dy="-4.7">= 19.1 ± 1.9 Wm</tspan><tspan dy="-5.2" class="sup2">-1</tspan><tspan dy="5.2">K</tspan><tspan dy="-5.2" class="sup2">-1</tspan></text>
<text x="52.4" y="20.4" class="pl">(a)</text>
<text x="276.6" y="21.5" class="pl">(b)</text>
<text x="51.6" y="261.4" class="pl">(c)</text>
<text x="278.1" y="262" class="pl">(d)</text>
<text x="148.2" y="492.2" text-anchor="middle" class="xt">Frequency (Hz)</text>
<text x="372.6" y="492.2" text-anchor="middle" class="xt">Frequency (Hz)</text>
<text transform="translate(13.3 178.6) rotate(-90)" class="yt">Ratio (-V<tspan dy="6.5" class="ys">in</tspan><tspan dy="-6.5">/V</tspan><tspan dy="6.5" class="ys">out</tspan><tspan dy="-6.5">)</tspan></text>
<text transform="translate(20 417.3) rotate(-90)" class="yt">Ratio (-V<tspan dy="6.5" class="ys">in</tspan><tspan dy="-6.5">/V</tspan><tspan dy="6.5" class="ys">out</tspan><tspan dy="-6.5">)</tspan></text>
<text transform="translate(508.2 179.6) rotate(-90)" class="yt">Ratio (-V<tspan dy="6.5" class="ys">in</tspan><tspan dy="-6.5">/V</tspan><tspan dy="6.5" class="ys">out</tspan><tspan dy="-6.5">)</tspan></text>
<text transform="translate(513.2 416) rotate(-90)" class="yt">Ratio(-V<tspan dy="6.5" class="ys">in</tspan><tspan dy="-6.5">/V</tspan><tspan dy="6.5" class="ys">out</tspan><tspan dy="-6.5">)</tspan></text>
</svg>
</body></html>
